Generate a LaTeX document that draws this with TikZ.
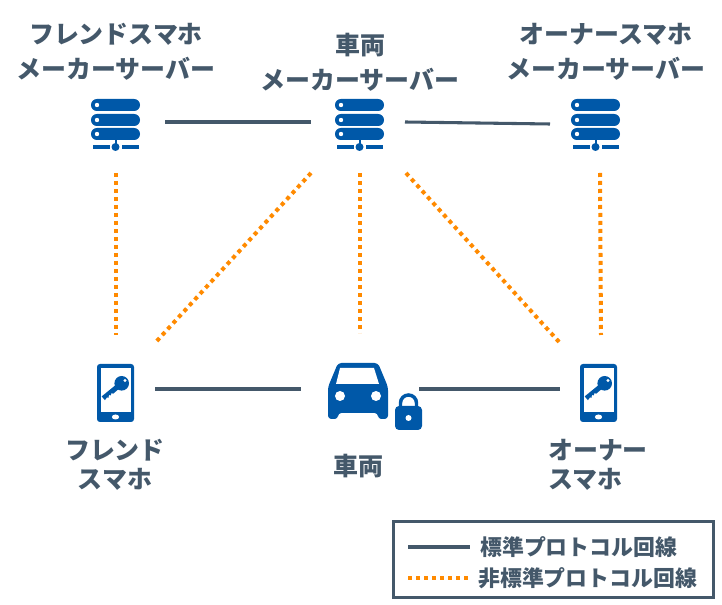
\documentclass[tikz,border=0pt]{standalone}
\usepackage{fontspec}
\setmainfont{Noto Sans CJK JP}
\definecolor{linegray}{HTML}{44586A}
\definecolor{iconblue}{HTML}{0058A8}
\definecolor{dotorange}{HTML}{FF8A00}
\newcommand{\srvicon}[1]{
	\begin{scope}[shift={(#1)}]
	\foreach \y in {-26,-11,3}{
		\fill[iconblue,rounded corners=4.4pt] (-25,\y) rectangle (24,\y+12);
		\fill[white] (-19,\y+6) circle (2.2);
	}
	\draw[iconblue,line width=1.5pt] (-0.5,14) -- (-0.5,20);
	\fill[iconblue] (-0.5,22) circle (4);
	\fill[iconblue] (-23,20) rectangle (-6,24);
	\fill[iconblue] (6,20) rectangle (23,24);
	\end{scope}
	}
\newcommand{\keyicon}[1]{
	\begin{scope}[shift={(#1)}]
	\fill[iconblue,rounded corners=2.2pt] (-19,-28) rectangle (18,30);
	\fill[white] (-15.5,-24) rectangle (14.5,20);
	\fill[white] (-0.5,25) ellipse (3.6 and 2.5);
	\fill[iconblue] (5.7,-8.7) circle (7.3);
	\fill[iconblue] (4.1,-10.6) -- (7.3,-6.8) -- (-3,1.8) -- (-4.2,0.8) -- (-5.4,3.4) -- (-7,3) -- (-7.6,5.8) -- (-9,5.4) -- (-11.1,8.2) -- (-14.3,4.4) -- cycle;
	\fill[white] (9,-11.5) circle (1.7);
	\end{scope}
	}
\newcommand{\caricon}[1]{
	\begin{scope}[shift={(#1)}]
	\fill[iconblue,rounded corners=2.5pt] (-20,-30) -- (20,-30) -- (30,-6) -- (30,26) -- (20,26) -- (20,20) -- (-20,20) -- (-20,26) -- (-30,26) -- (-30,-6) -- cycle;
	\fill[white] (-18,-25) -- (16,-25) -- (21,-9) -- (-22,-9) -- cycle;
	\fill[white] (-18,3) circle (5);
	\fill[white] (18,3) circle (5);
	\fill[iconblue,rounded corners=3pt] (37,13) rectangle (64,37);
	\draw[iconblue,line width=2.6pt] (42.5,14) -- (42.5,10) arc (180:360:8) -- (58.5,14);
	\fill[white] (50.5,25) circle (3);
	\end{scope}
	}
\begin{document}
\begin{tikzpicture}[
      x=0.75pt,y=-0.75pt,
      icon/.style={inner sep=0pt,outer sep=0pt,minimum width=#1},
      srv/.style={icon=73.5pt,minimum height=72pt},
      phone/.style={icon=58.5pt,minimum height=73.5pt},
      std/.style={line width=2.3pt,color=linegray},
      nonstd/.style={line width=3pt,color=dotorange,dash pattern=on 3pt off 3pt},
      label/.style={font=\fontsize{18.7pt}{26pt}\selectfont\bfseries,text=linegray,align=center,inner sep=0pt},
      lowlabel/.style={label,font=\fontsize{18.7pt}{22pt}\selectfont\bfseries},
      legtext/.style={font=\fontsize{16.4pt}{18pt}\selectfont\bfseries,text=linegray,inner sep=0pt,anchor=west}
    ]
    \useasboundingbox (0,0) rectangle (722,605);
    % Servers
    \node[srv] (srvF) at (116,125) {};
    \node[srv] (srvC) at (360,125) {};
    \node[srv] (srvO) at (596,125) {};
    \srvicon{116,125}
    \srvicon{360,125}
    \srvicon{596,125}
    % Phones and car
    \node[phone] (phF) at (116,392) {};
    \node[icon=116pt,minimum height=60pt] (car) at (360,392) {};
    \node[phone] (phO) at (599,392) {};
    \keyicon{116,392}
    \caricon{358,393}
    \keyicon{599,392}
    % Free ends of the dotted lines
    \coordinate (phFtop) at (116,335);
    \coordinate (carTop) at (360,333);
    \coordinate (phOtop) at (601,335);
    \coordinate (srvOlow) at (600,173);
    % Standard lines
    \draw[std] (srvF.east |- 0,122) -- (srvC.west |- 0,122);
    \draw[std] (405,122) coordinate (srvCr) -- (550,124) coordinate (srvOl);
    \draw[std] (phF.east |- 0,389) -- (301,389) coordinate (carL);
    \draw[std] (419,389) coordinate (carR) -- (phO.west |- 0,389);
    % Non standard lines
    \draw[nonstd] (srvF.south) -- (phFtop);
    \draw[nonstd] (srvC.south) -- (carTop);
    \draw[nonstd] (srvOlow) -- (phOtop);
    \draw[nonstd] (srvC.south west) -- (phF.north east);
    \draw[nonstd] (406,173) coordinate (srvCse) -- (phO.north west);
    % Labels
    \node[label] (lblF) at (116,52) {フレンドスマホ\\メーカーサーバー};
    \node[label] (lblC) at (360,62) {車両\\メーカーサーバー};
    \node[label] (lblO) at (606,52) {オーナースマホ\\メーカーサーバー};
    \node[lowlabel] (lblPF) at (115,465) {フレンド\\スマホ};
    \node[label] (lblCar) at (358,466) {車両};
    \node[lowlabel,align=left] (lblPO) at (598,465) {オーナー\\スマホ};
    % Legend
    \node[draw=linegray,line width=1.9pt,minimum width=240pt,minimum height=57pt,inner sep=0pt] (legend) at (553.5,559.5) {};
    \coordinate (legA) at (408,547);
    \coordinate (legB) at (470,547);
    \coordinate (legC) at (408,578);
    \coordinate (legD) at (470,578);
    \draw[std] (legA) -- (legB);
    \draw[nonstd] (legC) -- (legD);
    \node[legtext] (legStd) at (480,547) {標準プロトコル回線};
    \node[legtext] (legNon) at (478,578) {非標準プロトコル回線};
\end{tikzpicture}
\end{document}
